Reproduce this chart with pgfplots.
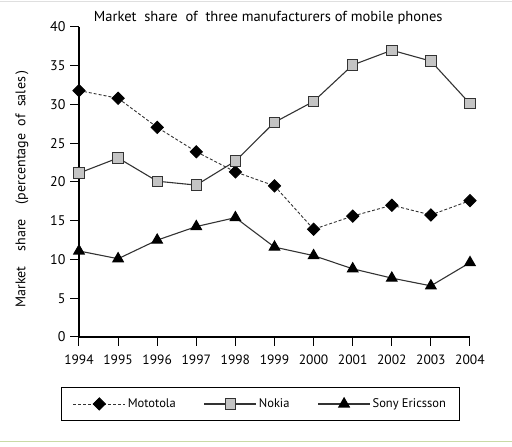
\documentclass[border=0pt]{standalone}
\usepackage{pgfplots}
\pgfplotsset{compat=1.18}
\usepackage{fontspec}
\setmainfont{PT Sans}
\definecolor{sqgray}{HTML}{C4C4C4}
\definecolor{linegray}{HTML}{333333}
\definecolor{greenline}{HTML}{C9DBA6}
\begin{document}
\begin{tikzpicture}
\useasboundingbox (0pt,0pt) rectangle (512pt,447pt);
\draw[gray!25,line width=1pt] (0pt,445pt) -- (512pt,445pt);
\draw[greenline,line width=1pt] (0pt,5pt) -- (512pt,5pt);
\begin{axis}[
  at={(79pt,110pt)}, anchor=south west,
  scale only axis, width=391pt, height=310pt,
  xmin=1994, xmax=2004, ymin=0, ymax=40,
  axis x line=bottom, axis y line=left,
  axis line style={line width=1.1pt, black, -},
  xtick={1994,...,2004}, ytick={0,5,...,40},
  x tick label style={/pgf/number format/1000 sep={}, font=\fontsize{13.5}{14}\selectfont, yshift=-5pt},
  y tick label style={font=\fontsize{14}{15}\selectfont, xshift=-1pt},
  /pgf/number format/assume math mode=true,
  tick align=outside, major tick length=9pt,
  tick style={line width=1pt, black},
  clip=false,
  title={\fontsize{14.5}{16}\selectfont Market\ \ share\ \ of\ \ three manufacturers of mobile phones},
  title style={at={(0.484,1)}, anchor=center, yshift=3pt},
  ylabel={\fontsize{14}{16}\selectfont Market\ \ \ \ share\ \ \ \ (percentage\ \ of\ \ sales\,)},
  ylabel style={at={(axis description cs:-0.146,0.477)}, anchor=center},
  legend columns=3,
  legend style={at={(0.464,-0.216)}, anchor=center, draw=black, line width=0.8pt,
    font=\fontsize{12.5}{14}\selectfont, inner xsep=11pt, inner ysep=9pt,
    /tikz/every even column/.append style={column sep=26pt}},
  legend image code/.code={
    \draw[#1, mark repeat=2, mark phase=2] plot coordinates {(0pt,0pt) (26pt,0pt) (52pt,0pt)};
  },
]
\addplot[linegray, line width=0.9pt, densely dashed, mark=square*, mark size=4.3pt,
  mark options={solid, fill=black, draw=black, rotate=45}]
  coordinates {(1994,31.8) (1995,30.8) (1996,27.05) (1997,23.9) (1998,21.3) (1999,19.5)
  (2000,13.9) (2001,15.6) (2002,17.0) (2003,15.75) (2004,17.6)};
\addlegendentry{Mototola}
\addplot[linegray, line width=1.1pt, mark=square*, mark size=5.2pt,
  mark options={solid, fill=sqgray, draw=linegray, line width=1pt}]
  coordinates {(1994,21.15) (1995,23.1) (1996,20.1) (1997,19.6) (1998,22.7) (1999,27.7)
  (2000,30.4) (2001,35.1) (2002,37.0) (2003,35.6) (2004,30.1)};
\addlegendentry{Nokia}
\addplot[linegray, line width=1.1pt, mark=triangle*, mark size=6pt,
  mark options={solid, fill=black, draw=black}]
  coordinates {(1994,11.1) (1995,10.1) (1996,12.5) (1997,14.25) (1998,15.4) (1999,11.6)
  (2000,10.5) (2001,8.8) (2002,7.6) (2003,6.6) (2004,9.6)};
\addlegendentry{Sony Ericsson}
\end{axis}
\end{tikzpicture}
\end{document}
